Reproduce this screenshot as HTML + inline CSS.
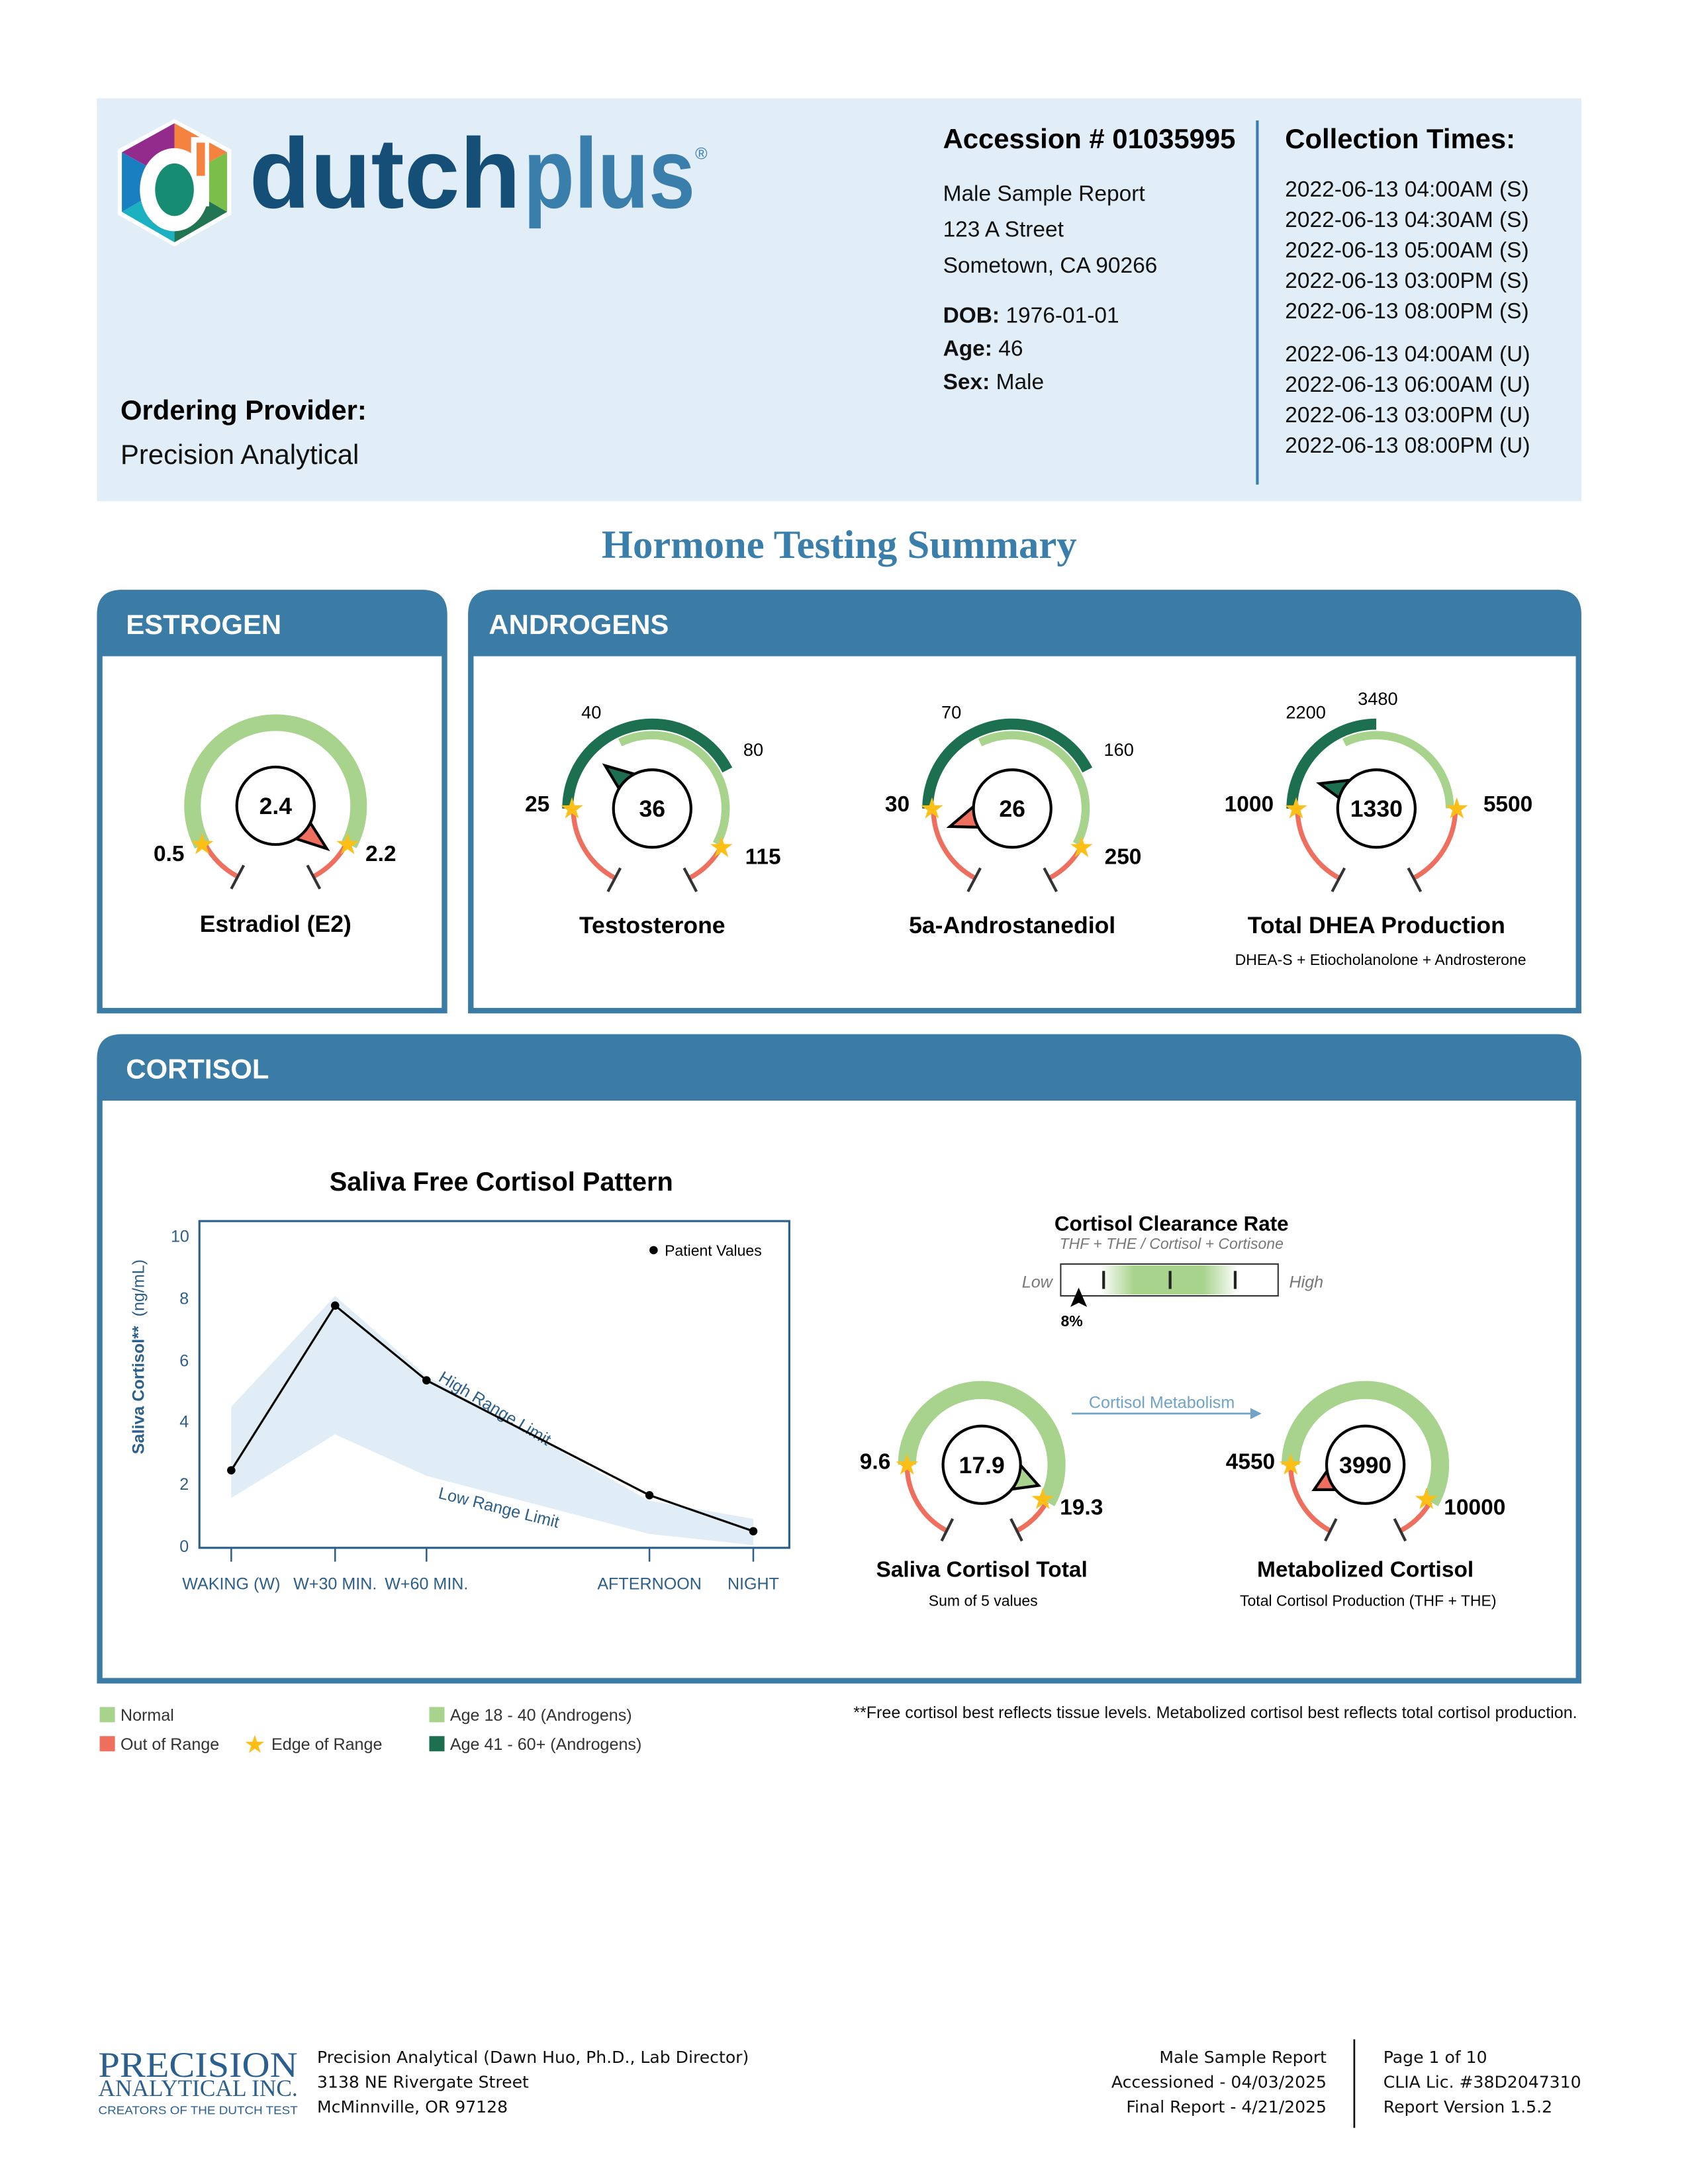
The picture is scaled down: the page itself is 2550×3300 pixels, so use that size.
<!DOCTYPE html>
<html><head><meta charset="utf-8"><style>
html,body{margin:0;padding:0;background:#fff;}
svg{display:block;}
text{font-family:"Liberation Sans",sans-serif;}
.b{font-weight:bold;}
.ft{font-family:"DejaVu Sans","Liberation Sans",sans-serif;}
.pre{white-space:pre;}
</style></head><body>
<svg width="2550" height="3300" viewBox="0 0 1219 1577.5" xmlns="http://www.w3.org/2000/svg">
<rect x="0" y="0" width="1219" height="1577.5" fill="#fff"/>
<rect x="70" y="71" width="1072" height="291" fill="#e1edf7"/>
<g>
<polygon points="126,86 167,108 167,155 126,178 85,155 85,108" fill="#fff"/>
<polygon points="126,89 126,131 88,110" fill="#922b8c"/>
<polygon points="126,89 164,110 126,131" fill="#f5823e"/>
<polygon points="164,110 164,153 126,131" fill="#7bbf4a"/>
<polygon points="164,153 126,175 126,131" fill="#227553"/>
<polygon points="126,175 88,153 126,131" fill="#1bb1c1"/>
<polygon points="88,153 88,110 126,131" fill="#1a7fc1"/>
<ellipse cx="126" cy="137" rx="25" ry="30" fill="#fff"/>
<rect x="138" y="99" width="13" height="50" fill="#fff"/>
<rect x="142" y="103" width="6" height="24" fill="#f5823e"/>
<ellipse cx="126" cy="137" rx="14" ry="19" fill="#168d72"/>
</g>
<text x="180" y="150" font-size="72" class="b" fill="#154f78" textLength="196" lengthAdjust="spacingAndGlyphs">dutch</text>
<text x="378" y="150" font-size="72" class="b" fill="#3a7fab" textLength="124" lengthAdjust="spacingAndGlyphs">plus</text>
<text x="502" y="115" font-size="12" fill="#3a7fab">®</text>

<text x="681" y="107" font-size="20" class="b" fill="#000">Accession # 01035995</text>
<g font-size="16" fill="#111">
<text x="681" y="145">Male Sample Report</text>
<text x="681" y="171">123 A Street</text>
<text x="681" y="197">Sometown, CA 90266</text>
<text x="681" y="233"><tspan class="b">DOB:</tspan> 1976-01-01</text>
<text x="681" y="257"><tspan class="b">Age:</tspan> 46</text>
<text x="681" y="281"><tspan class="b">Sex:</tspan> Male</text>
</g>
<line x1="908" y1="87" x2="908" y2="350" stroke="#3a7fab" stroke-width="2"/>
<text x="928" y="107" font-size="20" class="b" fill="#000">Collection Times:</text>
<g font-size="16" fill="#111" class="pre">
<text x="928" y="142">2022-06-13 04:00AM  (S)</text>
<text x="928" y="164">2022-06-13 04:30AM  (S)</text>
<text x="928" y="186">2022-06-13 05:00AM  (S)</text>
<text x="928" y="208">2022-06-13 03:00PM  (S)</text>
<text x="928" y="230">2022-06-13 08:00PM  (S)</text>
<text x="928" y="261">2022-06-13 04:00AM  (U)</text>
<text x="928" y="283">2022-06-13 06:00AM  (U)</text>
<text x="928" y="305">2022-06-13 03:00PM  (U)</text>
<text x="928" y="327">2022-06-13 08:00PM  (U)</text>
</g>
<text x="87" y="303" font-size="20" class="b" fill="#000">Ordering Provider:</text>
<text x="87" y="335" font-size="20" fill="#111">Precision Analytical</text>

<text x="606" y="403" font-size="29" font-weight="bold" fill="#3a7fab" text-anchor="middle" style="font-family:'Liberation Serif',serif">Hormone Testing Summary</text>

<path d="M70,732 V444 Q70,426 88,426 H305 Q323,426 323,444 V732 Z" fill="#3b7ca6"/>
<rect x="74" y="474" width="245" height="254" fill="#fff"/>
<path d="M338,732 V444 Q338,426 356,426 H1124 Q1142,426 1142,444 V732 Z" fill="#3b7ca6"/>
<rect x="342" y="474" width="796" height="254" fill="#fff"/>
<path d="M70,1216 V765 Q70,747 88,747 H1124 Q1142,747 1142,765 V1216 Z" fill="#3b7ca6"/>
<rect x="74" y="795" width="1064" height="417" fill="#fff"/>
<text x="91" y="458" font-size="20" class="b" fill="#fff">ESTROGEN</text>
<text x="353" y="458" font-size="20" class="b" fill="#fff">ANDROGENS</text>
<text x="91" y="779" font-size="20" class="b" fill="#fff">CORTISOL</text>

<!-- E2 gauge -->
<g fill="none">
<circle cx="199" cy="582" r="60" stroke="#a8d38d" stroke-width="12" pathLength="360" stroke-dasharray="236 1000" transform="rotate(152 199 582)"/>
<circle cx="199" cy="582" r="58" stroke="#ef6f5e" stroke-width="3.5" pathLength="360" stroke-dasharray="34 1000" transform="rotate(118 199 582)"/>
<circle cx="199" cy="582" r="58" stroke="#ef6f5e" stroke-width="3.5" pathLength="360" stroke-dasharray="34 1000" transform="rotate(28 199 582)"/>
<line x1="176" y1="625" x2="167" y2="642" stroke="#333" stroke-width="2"/>
<line x1="222" y1="625" x2="231" y2="642" stroke="#333" stroke-width="2"/>
</g>
<polygon points="236,613 223.5,593.4 212.5,605.4" fill="#ef6f5e" stroke="#000" stroke-width="2"/>
<circle cx="199" cy="582" r="28" fill="#fff" stroke="#000" stroke-width="2"/>
<text x="199" y="588" font-size="17" class="b" text-anchor="middle">2.4</text>
<g font-size="21" fill="#fdbf16" text-anchor="middle" class="ft"><text x="146" y="617">★</text><text x="251" y="617">★</text></g>
<text x="122" y="622" font-size="16" class="b" text-anchor="middle">0.5</text>
<text x="275" y="622" font-size="16" class="b" text-anchor="middle">2.2</text>
<text x="199" y="673" font-size="17" class="b" text-anchor="middle">Estradiol (E2)</text>

<!-- Testosterone -->
<g fill="none">
<circle cx="471" cy="584" r="61" stroke="#1c7050" stroke-width="8" pathLength="360" stroke-dasharray="153 1000" transform="rotate(180 471 584)"/>
<circle cx="471" cy="584" r="53" stroke="#a8d38d" stroke-width="6" pathLength="360" stroke-dasharray="145 1000" transform="rotate(244 471 584)"/>
<circle cx="471" cy="584" r="57" stroke="#ef6f5e" stroke-width="3.5" pathLength="360" stroke-dasharray="62 1000" transform="rotate(118 471 584)"/>
<circle cx="471" cy="584" r="57" stroke="#ef6f5e" stroke-width="3.5" pathLength="360" stroke-dasharray="33 1000" transform="rotate(29 471 584)"/>
<line x1="448" y1="627" x2="439" y2="644" stroke="#333" stroke-width="2"/>
<line x1="494" y1="627" x2="503" y2="644" stroke="#333" stroke-width="2"/>
</g>
<polygon points="437,553 447.6,570.5 459.6,559.5" fill="#1c7050" stroke="#000" stroke-width="2"/>
<circle cx="471" cy="584" r="28" fill="#fff" stroke="#000" stroke-width="2"/>
<text x="471" y="590" font-size="17" class="b" text-anchor="middle">36</text>
<g font-size="21" fill="#fdbf16" text-anchor="middle" class="ft"><text x="413" y="591">★</text><text x="521" y="619">★</text></g>
<text x="427" y="519" font-size="13" text-anchor="middle">40</text>
<text x="544" y="546" font-size="13" text-anchor="middle">80</text>
<text x="388" y="586" font-size="16" class="b" text-anchor="middle">25</text>
<text x="551" y="624" font-size="16" class="b" text-anchor="middle">115</text>
<text x="471" y="674" font-size="17" class="b" text-anchor="middle">Testosterone</text>

<!-- 5a -->
<g fill="none">
<circle cx="731" cy="584" r="61" stroke="#1c7050" stroke-width="8" pathLength="360" stroke-dasharray="153 1000" transform="rotate(180 731 584)"/>
<circle cx="731" cy="584" r="53" stroke="#a8d38d" stroke-width="6" pathLength="360" stroke-dasharray="145 1000" transform="rotate(244 731 584)"/>
<circle cx="731" cy="584" r="57" stroke="#ef6f5e" stroke-width="3.5" pathLength="360" stroke-dasharray="62 1000" transform="rotate(118 731 584)"/>
<circle cx="731" cy="584" r="57" stroke="#ef6f5e" stroke-width="3.5" pathLength="360" stroke-dasharray="33 1000" transform="rotate(29 731 584)"/>
<line x1="708" y1="627" x2="699" y2="644" stroke="#333" stroke-width="2"/>
<line x1="754" y1="627" x2="763" y2="644" stroke="#333" stroke-width="2"/>
</g>
<polygon points="686,597 707.6,597.5 704.1,581.6" fill="#ef6f5e" stroke="#000" stroke-width="2"/>
<circle cx="731" cy="584" r="28" fill="#fff" stroke="#000" stroke-width="2"/>
<text x="731" y="590" font-size="17" class="b" text-anchor="middle">26</text>
<g font-size="21" fill="#fdbf16" text-anchor="middle" class="ft"><text x="673" y="591">★</text><text x="781" y="619">★</text></g>
<text x="687" y="519" font-size="13" text-anchor="middle">70</text>
<text x="808" y="546" font-size="13" text-anchor="middle">160</text>
<text x="648" y="586" font-size="16" class="b" text-anchor="middle">30</text>
<text x="811" y="624" font-size="16" class="b" text-anchor="middle">250</text>
<text x="731" y="674" font-size="17" class="b" text-anchor="middle">5a-Androstanediol</text>

<!-- DHEA -->
<g fill="none">
<circle cx="994" cy="584" r="61" stroke="#1c7050" stroke-width="8" pathLength="360" stroke-dasharray="90 1000" transform="rotate(180 994 584)"/>
<circle cx="994" cy="584" r="53" stroke="#a8d38d" stroke-width="6" pathLength="360" stroke-dasharray="116 1000" transform="rotate(244 994 584)"/>
<circle cx="994" cy="584" r="57" stroke="#ef6f5e" stroke-width="3.5" pathLength="360" stroke-dasharray="62 1000" transform="rotate(118 994 584)"/>
<circle cx="994" cy="584" r="57" stroke="#ef6f5e" stroke-width="3.5" pathLength="360" stroke-dasharray="62 1000" transform="rotate(0 994 584)"/>
<line x1="971" y1="627" x2="962" y2="644" stroke="#333" stroke-width="2"/>
<line x1="1017" y1="627" x2="1026" y2="644" stroke="#333" stroke-width="2"/>
</g>
<polygon points="953,566 967.9,577 976.6,563.3" fill="#1c7050" stroke="#000" stroke-width="2"/>
<circle cx="994" cy="584" r="28" fill="#fff" stroke="#000" stroke-width="2"/>
<text x="994" y="590" font-size="17" class="b" text-anchor="middle">1330</text>
<g font-size="21" fill="#fdbf16" text-anchor="middle" class="ft"><text x="936" y="591">★</text><text x="1052" y="591">★</text></g>
<text x="943" y="519" font-size="13" text-anchor="middle">2200</text>
<text x="995" y="509" font-size="13" text-anchor="middle">3480</text>
<text x="902" y="586" font-size="16" class="b" text-anchor="middle">1000</text>
<text x="1089" y="586" font-size="16" class="b" text-anchor="middle">5500</text>
<text x="994" y="674" font-size="17" class="b" text-anchor="middle">Total DHEA Production</text>
<text x="997" y="697" font-size="11" text-anchor="middle">DHEA-S + Etiocholanolone + Androsterone</text>

<!-- Cortisol chart -->
<text x="362" y="860" font-size="19" class="b" text-anchor="middle">Saliva Free Cortisol Pattern</text>
<polygon points="167,1016 242,936 308,994 469,1084 544,1097 544,1116 469,1108 308,1066 242,1036 167,1082" fill="#e0edf6"/>
<rect x="144" y="882" width="426" height="236" fill="none" stroke="#2c5f8a" stroke-width="1.5"/>
<g stroke="#2c5f8a" stroke-width="1.2">
<line x1="167" y1="1118" x2="167" y2="1128"/><line x1="242" y1="1118" x2="242" y2="1128"/><line x1="308" y1="1118" x2="308" y2="1128"/><line x1="469" y1="1118" x2="469" y2="1128"/><line x1="544" y1="1118" x2="544" y2="1128"/>
</g>
<g font-size="12" fill="#2c5f8a" text-anchor="middle">
<text x="130" y="897">10</text><text x="133" y="942">8</text><text x="133" y="987">6</text><text x="133" y="1031">4</text><text x="133" y="1076">2</text><text x="133" y="1121">0</text>
<text x="167" y="1148">WAKING (W)</text><text x="242" y="1148">W+30 MIN.</text><text x="308" y="1148">W+60 MIN.</text><text x="469" y="1148">AFTERNOON</text><text x="544" y="1148">NIGHT</text>
</g>
<text transform="translate(104,980) rotate(-90)" font-size="12" fill="#2c5f8a" text-anchor="middle" class="pre"><tspan class="b">Saliva Cortisol**</tspan>  (ng/mL)</text>
<text transform="translate(316,997) rotate(31)" font-size="12" fill="#2c5f8a">High Range Limit</text>
<text transform="translate(316,1082) rotate(14)" font-size="12" fill="#2c5f8a">Low Range Limit</text>
<polyline points="167,1062 242,943 308,997 469,1080 544,1106" fill="none" stroke="#000" stroke-width="1.5"/>
<g fill="#000"><circle cx="167" cy="1062" r="3"/><circle cx="242" cy="943" r="3"/><circle cx="308" cy="997" r="3"/><circle cx="469" cy="1080" r="3"/><circle cx="544" cy="1106" r="3"/></g>
<circle cx="472" cy="903" r="3" fill="#000"/>
<text x="480" y="907" font-size="11">Patient Values</text>

<!-- Clearance rate -->
<defs><linearGradient id="gg" x1="0" x2="1"><stop offset="0" stop-color="#a8d38d" stop-opacity="0"/><stop offset="0.25" stop-color="#a8d38d"/><stop offset="0.75" stop-color="#a8d38d"/><stop offset="1" stop-color="#a8d38d" stop-opacity="0"/></linearGradient></defs>
<text x="846" y="889" font-size="15" class="b" text-anchor="middle">Cortisol Clearance Rate</text>
<text x="846" y="902" font-size="11" font-style="italic" fill="#777" text-anchor="middle">THF + THE / Cortisol + Cortisone</text>
<rect x="766" y="913" width="157" height="23" fill="#fff" stroke="#333" stroke-width="1"/>
<rect x="794" y="914" width="100" height="21" fill="url(#gg)"/>
<g stroke="#222" stroke-width="2"><line x1="797" y1="918" x2="797" y2="931"/><line x1="845" y1="918" x2="845" y2="931"/><line x1="892" y1="918" x2="892" y2="931"/></g>
<text x="760" y="930" font-size="12" font-style="italic" fill="#777" text-anchor="end">Low</text>
<text x="931" y="930" font-size="12" font-style="italic" fill="#777">High</text>
<polygon points="779,930 773,944 779,941 785,944" fill="#000"/>
<text x="774" y="958" font-size="11" class="b" text-anchor="middle">8%</text>
<text x="839" y="1017" font-size="12" fill="#6fa3c8" text-anchor="middle">Cortisol Metabolism</text>
<line x1="774" y1="1021" x2="904" y2="1021" stroke="#6fa3c8" stroke-width="1.3"/>
<polygon points="903,1017 911,1021 903,1025" fill="#6fa3c8"/>

<!-- Saliva total -->
<g fill="none">
<circle cx="709" cy="1058" r="54" stroke="#a8d38d" stroke-width="13" pathLength="360" stroke-dasharray="210 1000" transform="rotate(180 709 1058)"/>
<circle cx="709" cy="1058" r="54" stroke="#ef6f5e" stroke-width="3.5" pathLength="360" stroke-dasharray="62 1000" transform="rotate(118 709 1058)"/>
<circle cx="709" cy="1058" r="54" stroke="#ef6f5e" stroke-width="3.5" pathLength="360" stroke-dasharray="32 1000" transform="rotate(30 709 1058)"/>
<line x1="688" y1="1097" x2="680" y2="1113" stroke="#333" stroke-width="2"/>
<line x1="730" y1="1097" x2="738" y2="1113" stroke="#333" stroke-width="2"/>
</g>
<polygon points="750,1073 734,1055 728,1076" fill="#a8d38d" stroke="#000" stroke-width="2"/>
<circle cx="709" cy="1058" r="28" fill="#fff" stroke="#000" stroke-width="2"/>
<text x="709" y="1064" font-size="17" class="b" text-anchor="middle">17.9</text>
<g font-size="21" fill="#fdbf16" text-anchor="middle" class="ft"><text x="655" y="1065">★</text><text x="753" y="1090">★</text></g>
<text x="632" y="1061" font-size="16" class="b" text-anchor="middle">9.6</text>
<text x="781" y="1094" font-size="16" class="b" text-anchor="middle">19.3</text>
<text x="709" y="1139" font-size="16" class="b" text-anchor="middle">Saliva Cortisol Total</text>
<text x="710" y="1160" font-size="11" text-anchor="middle">Sum of 5 values</text>

<!-- Metabolized -->
<g fill="none">
<circle cx="986" cy="1058" r="54" stroke="#a8d38d" stroke-width="13" pathLength="360" stroke-dasharray="210 1000" transform="rotate(180 986 1058)"/>
<circle cx="986" cy="1058" r="54" stroke="#ef6f5e" stroke-width="3.5" pathLength="360" stroke-dasharray="62 1000" transform="rotate(118 986 1058)"/>
<circle cx="986" cy="1058" r="54" stroke="#ef6f5e" stroke-width="3.5" pathLength="360" stroke-dasharray="32 1000" transform="rotate(30 986 1058)"/>
<line x1="965" y1="1097" x2="957" y2="1113" stroke="#333" stroke-width="2"/>
<line x1="1007" y1="1097" x2="1015" y2="1113" stroke="#333" stroke-width="2"/>
</g>
<polygon points="949,1076 965,1076 960,1060" fill="#ef6f5e" stroke="#000" stroke-width="2"/>
<circle cx="986" cy="1058" r="28" fill="#fff" stroke="#000" stroke-width="2"/>
<text x="986" y="1064" font-size="17" class="b" text-anchor="middle">3990</text>
<g font-size="21" fill="#fdbf16" text-anchor="middle" class="ft"><text x="932" y="1065">★</text><text x="1030" y="1090">★</text></g>
<text x="903" y="1061" font-size="16" class="b" text-anchor="middle">4550</text>
<text x="1065" y="1094" font-size="16" class="b" text-anchor="middle">10000</text>
<text x="986" y="1139" font-size="16" class="b" text-anchor="middle">Metabolized Cortisol</text>
<text x="988" y="1160" font-size="11" text-anchor="middle">Total Cortisol Production (THF + THE)</text>

<!-- legend -->
<rect x="72" y="1233" width="11" height="11" fill="#a8d38d"/>
<text x="87" y="1243" font-size="12" fill="#333">Normal</text>
<rect x="72" y="1254" width="11" height="11" fill="#ef6f5e"/>
<text x="87" y="1264" font-size="12" fill="#333">Out of Range</text>
<text x="184" y="1266" font-size="18" fill="#fdbf16" text-anchor="middle" class="ft">★</text>
<text x="196" y="1264" font-size="12" fill="#333">Edge of Range</text>
<rect x="310" y="1233" width="11" height="11" fill="#a8d38d"/>
<text x="325" y="1243" font-size="12" fill="#333">Age 18 - 40 (Androgens)</text>
<rect x="310" y="1254" width="11" height="11" fill="#1c7050"/>
<text x="325" y="1264" font-size="12" fill="#333">Age 41 - 60+ (Androgens)</text>
<text x="1139" y="1241" font-size="12" fill="#111" text-anchor="end">**Free cortisol best reflects tissue levels. Metabolized cortisol best reflects total cortisol production.</text>

<!-- footer -->
<text x="71" y="1500" font-size="26" fill="#2b5f8f" style="font-family:'Liberation Serif',serif" textLength="144" lengthAdjust="spacingAndGlyphs">PRECISION</text>
<text x="71" y="1514" font-size="17" fill="#2b5f8f" style="font-family:'Liberation Serif',serif" textLength="144" lengthAdjust="spacingAndGlyphs">ANALYTICAL INC.</text>
<text x="71" y="1527" font-size="8.5" fill="#2b5f8f" textLength="144" lengthAdjust="spacingAndGlyphs">CREATORS OF THE DUTCH TEST</text>
<g font-size="12" fill="#111" class="ft">
<text x="229" y="1490" class="ft">Precision Analytical (Dawn Huo, Ph.D., Lab Director)</text>
<text x="229" y="1508" class="ft">3138 NE Rivergate Street</text>
<text x="229" y="1526" class="ft">McMinnville, OR 97128</text>
<text x="958" y="1490" text-anchor="end" class="ft">Male Sample Report</text>
<text x="958" y="1508" text-anchor="end" class="ft">Accessioned - 04/03/2025</text>
<text x="958" y="1526" text-anchor="end" class="ft">Final Report - 4/21/2025</text>
<text x="999" y="1490" class="ft">Page 1 of 10</text>
<text x="999" y="1508" class="ft">CLIA Lic. #38D2047310</text>
<text x="999" y="1526" class="ft">Report Version 1.5.2</text>
</g>
<line x1="978" y1="1473" x2="978" y2="1537" stroke="#111" stroke-width="1.3"/>
</svg>
</body></html>
